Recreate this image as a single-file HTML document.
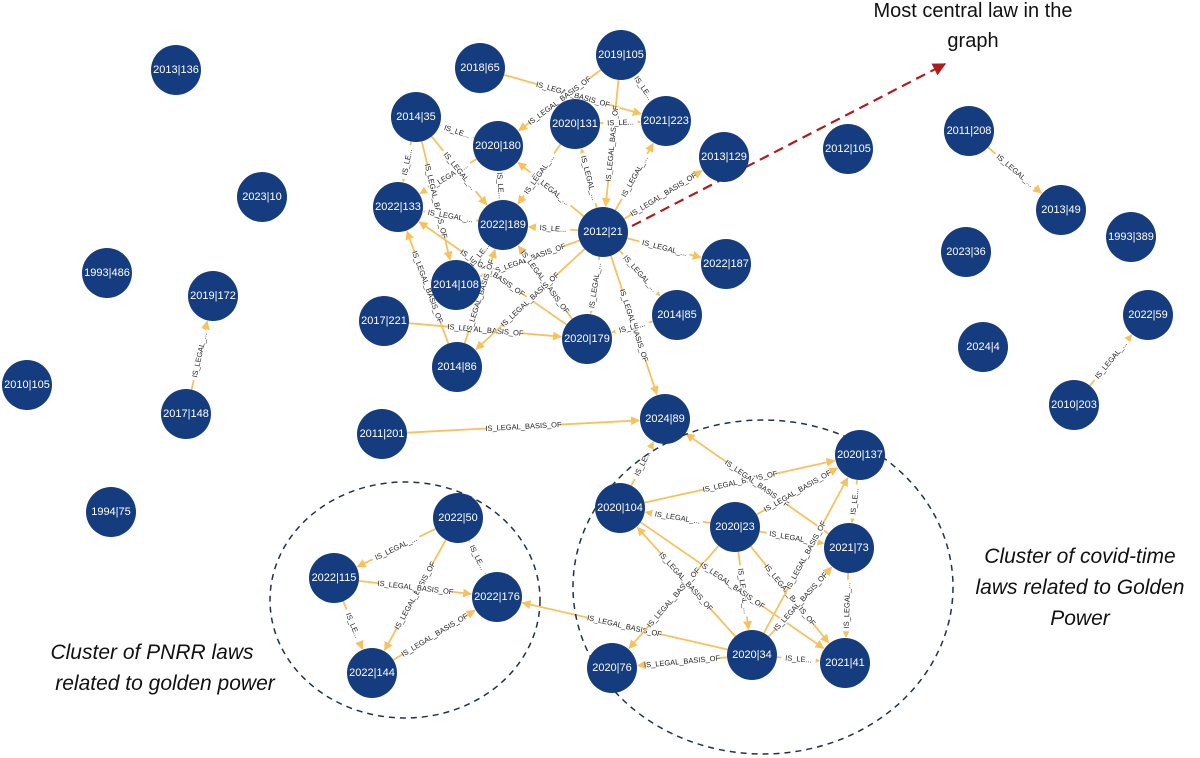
<!DOCTYPE html>
<html><head><meta charset="utf-8"><style>
html,body{margin:0;padding:0;background:#fff;width:1200px;height:758px;overflow:hidden}
svg{display:block}
.n circle{fill:#153c7e}
.n text{fill:#fff;font:11px "Liberation Sans",sans-serif;text-anchor:middle;dominant-baseline:central}
.lbl{font:7.5px "Liberation Sans",sans-serif;fill:#222;text-anchor:middle;dominant-baseline:central}
.big{font:italic 21px "Liberation Sans",sans-serif;fill:#111;text-anchor:middle}
.top{font:20px "Liberation Sans",sans-serif;fill:#111;text-anchor:middle}
</style></head><body>
<svg id="s" width="1200" height="758" viewBox="0 0 1200 758">
<defs>
<marker id="a" viewBox="0 0 10 10" refX="9" refY="5" markerWidth="5" markerHeight="5" orient="auto"><path d="M0,0L10,5L0,10z" fill="#f7c25d"/></marker>
<marker id="r" viewBox="0 0 10 10" refX="9" refY="5" markerWidth="6" markerHeight="6" orient="auto"><path d="M0,0L10,5L0,10z" fill="#b01c1c"/></marker>
</defs>
<g id="edges"></g>
<ellipse cx="405" cy="600" rx="135" ry="118" fill="none" stroke="#1f3347" stroke-width="1.5" stroke-dasharray="6,5"/>
<ellipse cx="763" cy="587" rx="190" ry="167" fill="none" stroke="#1f3347" stroke-width="1.5" stroke-dasharray="6,5"/>
<line x1="632" y1="226" x2="945" y2="64" stroke="#b01c1c" stroke-width="2.2" stroke-dasharray="10,6" marker-end="url(#r)"/>
<text class="top" x="973" y="17">Most central law in the</text>
<text class="top" x="973" y="47">graph</text>
<text class="big" x="152" y="659">Cluster of PNRR laws</text>
<text class="big" x="165" y="690">related to  golden power</text>
<text class="big" x="1080" y="563">Cluster of covid-time</text>
<text class="big" x="1080" y="594">laws related to Golden</text>
<text class="big" x="1080" y="625">Power</text>
<g id="nodes" class="n">
<g><circle cx="176" cy="70" r="25"/><text x="176" y="70">2013|136</text></g>
<g><circle cx="262" cy="197" r="25"/><text x="262" y="197">2023|10</text></g>
<g><circle cx="107" cy="273" r="25"/><text x="107" y="273">1993|486</text></g>
<g><circle cx="213" cy="296" r="25"/><text x="213" y="296">2019|172</text></g>
<g><circle cx="27" cy="385" r="25"/><text x="27" y="385">2010|105</text></g>
<g><circle cx="186" cy="414" r="25"/><text x="186" y="414">2017|148</text></g>
<g><circle cx="111" cy="512" r="25"/><text x="111" y="512">1994|75</text></g>
<g><circle cx="480" cy="68" r="25"/><text x="480" y="68">2018|65</text></g>
<g><circle cx="621" cy="55" r="25"/><text x="621" y="55">2019|105</text></g>
<g><circle cx="416" cy="117" r="25"/><text x="416" y="117">2014|35</text></g>
<g><circle cx="575" cy="124" r="25"/><text x="575" y="124">2020|131</text></g>
<g><circle cx="666" cy="121" r="25"/><text x="666" y="121">2021|223</text></g>
<g><circle cx="498" cy="146" r="25"/><text x="498" y="146">2020|180</text></g>
<g><circle cx="724" cy="157" r="25"/><text x="724" y="157">2013|129</text></g>
<g><circle cx="398" cy="207" r="25"/><text x="398" y="207">2022|133</text></g>
<g><circle cx="503" cy="225" r="25"/><text x="503" y="225">2022|189</text></g>
<g><circle cx="603" cy="232" r="25"/><text x="603" y="232">2012|21</text></g>
<g><circle cx="726" cy="264" r="25"/><text x="726" y="264">2022|187</text></g>
<g><circle cx="456" cy="285" r="25"/><text x="456" y="285">2014|108</text></g>
<g><circle cx="384" cy="321" r="25"/><text x="384" y="321">2017|221</text></g>
<g><circle cx="677" cy="315" r="25"/><text x="677" y="315">2014|85</text></g>
<g><circle cx="587" cy="339" r="25"/><text x="587" y="339">2020|179</text></g>
<g><circle cx="457" cy="367" r="25"/><text x="457" y="367">2014|86</text></g>
<g><circle cx="665" cy="419" r="25"/><text x="665" y="419">2024|89</text></g>
<g><circle cx="382" cy="434" r="25"/><text x="382" y="434">2011|201</text></g>
<g><circle cx="848" cy="149" r="25"/><text x="848" y="149">2012|105</text></g>
<g><circle cx="969" cy="131" r="25"/><text x="969" y="131">2011|208</text></g>
<g><circle cx="1061" cy="210" r="25"/><text x="1061" y="210">2013|49</text></g>
<g><circle cx="1131" cy="237" r="25"/><text x="1131" y="237">1993|389</text></g>
<g><circle cx="966" cy="252" r="25"/><text x="966" y="252">2023|36</text></g>
<g><circle cx="1148" cy="315" r="25"/><text x="1148" y="315">2022|59</text></g>
<g><circle cx="983" cy="347" r="25"/><text x="983" y="347">2024|4</text></g>
<g><circle cx="1074" cy="405" r="25"/><text x="1074" y="405">2010|203</text></g>
<g><circle cx="458" cy="518" r="25"/><text x="458" y="518">2022|50</text></g>
<g><circle cx="334" cy="578" r="25"/><text x="334" y="578">2022|115</text></g>
<g><circle cx="497" cy="597" r="25"/><text x="497" y="597">2022|176</text></g>
<g><circle cx="372" cy="673" r="25"/><text x="372" y="673">2022|144</text></g>
<g><circle cx="860" cy="455" r="25"/><text x="860" y="455">2020|137</text></g>
<g><circle cx="620" cy="508" r="25"/><text x="620" y="508">2020|104</text></g>
<g><circle cx="735" cy="527" r="25"/><text x="735" y="527">2020|23</text></g>
<g><circle cx="849" cy="548" r="25"/><text x="849" y="548">2021|73</text></g>
<g><circle cx="752" cy="655" r="25"/><text x="752" y="655">2020|34</text></g>
<g><circle cx="845" cy="663" r="25"/><text x="845" y="663">2021|41</text></g>
<g><circle cx="612" cy="668" r="25"/><text x="612" y="668">2020|76</text></g>
</g>
</svg>
<script>
var P={};
document.querySelectorAll('#nodes g').forEach(function(g){var c=g.querySelector('circle');P[g.textContent.trim()]=[+c.getAttribute('cx'),+c.getAttribute('cy')];});
var E=[["2018|65","2021|223"],["2019|105","2020|180"],["2019|105","2021|223"],["2019|105","2012|21"],["2020|131","2021|223"],["2020|180","2014|35"],["2020|180","2022|133"],["2020|180","2022|189"],["2014|35","2022|133"],["2014|35","2022|189"],["2014|35","2014|108"],["2012|21","2020|180"],["2012|21","2020|131"],["2012|21","2021|223"],["2012|21","2013|129"],["2012|21","2022|189"],["2012|21","2022|187"],["2012|21","2014|85"],["2012|21","2020|179"],["2012|21","2024|89"],["2012|21","2014|108"],["2020|131","2022|189"],["2022|189","2022|133"],["2014|86","2022|133"],["2020|179","2022|133"],["2020|179","2022|189"],["2014|108","2022|189"],["2017|221","2020|179"],["2014|85","2020|179"],["2014|86","2022|189"],["2012|21","2014|86"],["2011|201","2024|89"],["2017|148","2019|172"],["2011|208","2013|49"],["2010|203","2022|59"],["2022|50","2022|115"],["2022|50","2022|144"],["2022|50","2022|176"],["2022|115","2022|176"],["2022|115","2022|144"],["2022|144","2022|176"],["2020|34","2022|176"],["2020|104","2024|89"],["2020|104","2020|137"],["2021|73","2024|89"],["2020|23","2020|104"],["2020|23","2021|73"],["2020|23","2020|137"],["2020|23","2020|76"],["2020|23","2020|34"],["2020|23","2021|41"],["2020|104","2021|41"],["2020|34","2020|104"],["2020|34","2020|137"],["2020|34","2021|73"],["2020|34","2020|76"],["2020|34","2021|41"],["2020|137","2021|73"],["2021|73","2021|41"]];
var g=document.getElementById('edges'),ns='http://www.w3.org/2000/svg';
E.forEach(function(e){var a=P[e[0]],b=P[e[1]];if(!a||!b)return;var dx=b[0]-a[0],dy=b[1]-a[1],L=Math.hypot(dx,dy),ux=dx/L,uy=dy/L;
var l=document.createElementNS(ns,'line');l.setAttribute('x1',a[0]+ux*25);l.setAttribute('y1',a[1]+uy*25);l.setAttribute('x2',b[0]-ux*26);l.setAttribute('y2',b[1]-uy*26);l.setAttribute('stroke','#f7c25d');l.setAttribute('stroke-width','1.8');l.setAttribute('marker-end','url(#a)');g.appendChild(l);
var mx=(a[0]+b[0])/2,my=(a[1]+b[1])/2,ang=Math.atan2(dy,dx)*180/Math.PI;if(ang>90)ang-=180;if(ang<-90)ang+=180;
var t=document.createElementNS(ns,'text');t.setAttribute('class','lbl');t.setAttribute('x',mx);t.setAttribute('y',my);t.setAttribute('transform','rotate('+ang+' '+mx+' '+my+')');
var avail=L-60;t.textContent=avail>80?'IS_LEGAL_BASIS_OF':(avail>45?'IS_LEGAL_...':'IS_LE...');
var r=document.createElementNS(ns,'rect');var w=t.textContent.length*4.3;r.setAttribute('x',mx-w/2);r.setAttribute('y',my-4);r.setAttribute('width',w);r.setAttribute('height',8);r.setAttribute('fill','#fff');r.setAttribute('transform','rotate('+ang+' '+mx+' '+my+')');
g.appendChild(r);g.appendChild(t);});
</script>
</body></html>
